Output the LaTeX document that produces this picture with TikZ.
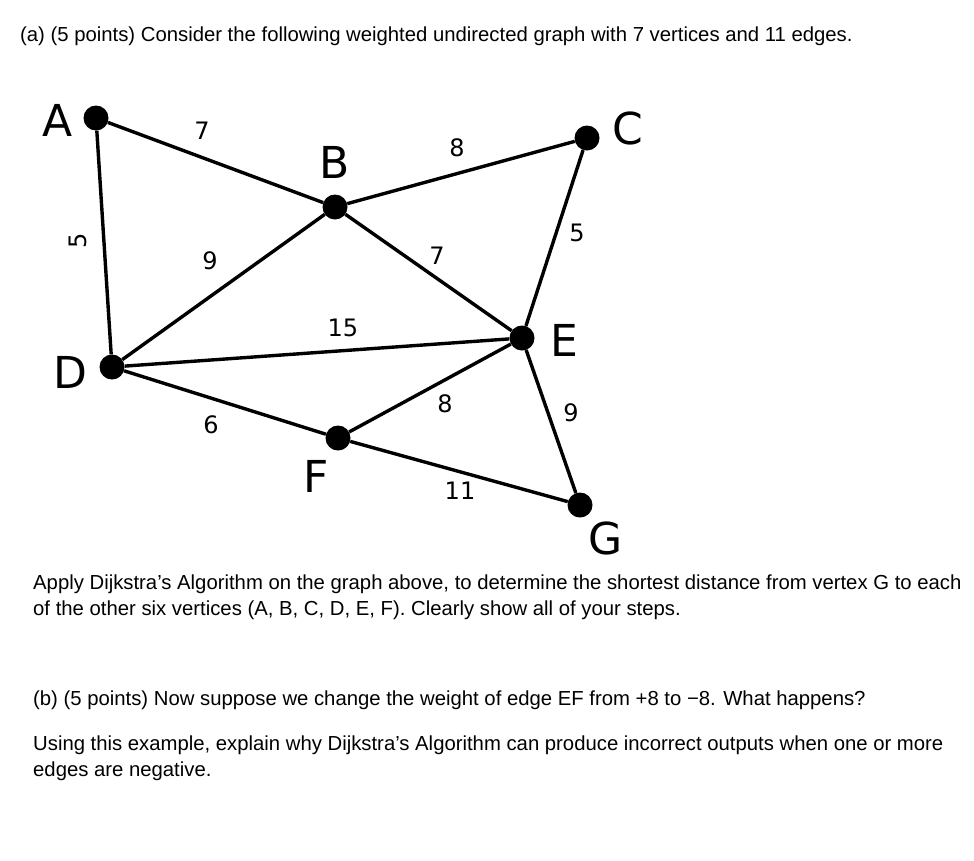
\documentclass[tikz,border=0pt]{standalone}
\usepackage{fontspec}
\setmainfont{Liberation Sans}
\newfontfamily\gf{DejaVu Sans}
\begin{document}
\begin{tikzpicture}[x=1pt,y=-1pt,
  vtx/.style={circle,fill=black,inner sep=0pt,minimum size=25pt},
  vl/.style={font=\gf\fontsize{44}{46}\selectfont},
  wl/.style={font=\gf\fontsize{24}{26}\selectfont},
  tx/.style={anchor=west,font=\fontsize{20.3}{24}\selectfont,inner sep=0pt},
  edge/.style={line width=3.4pt}]
\useasboundingbox (0,0) rectangle (974,860);
\node[tx] at (20,36) {(a) (5 points) Consider the following weighted undirected graph with 7 vertices and 11 edges.};
\node[vtx] (A) at (96,118) {};
\node[vtx] (B) at (335,207) {};
\node[vtx] (C) at (587,138) {};
\node[vtx] (D) at (112,367) {};
\node[vtx] (E) at (522,338) {};
\node[vtx] (F) at (338,438) {};
\node[vtx] (G) at (580,505) {};
\foreach \a/\b in {A/B,A/D,B/C,B/D,B/E,C/E,D/E,D/F,F/E,E/G,F/G} \draw[edge] (\a)--(\b);
\node[vl] (lA) at (58,120) {A};
\node[vl] (lB) at (335,162) {B};
\node[vl] (lC) at (628,128) {C};
\node[vl] (lD) at (70,372) {D};
\node[vl] (lE) at (564,340) {E};
\node[vl] (lF) at (316,476) {F};
\node[vl] (lG) at (606,538) {G};
\node[wl] (w1) at (202,131) {7};
\node[wl] (w2) at (457,148) {8};
\node[wl,rotate=90] (w3) at (78,241) {5};
\node[wl] (w4) at (210,261) {9};
\node[wl] (w5) at (437,256) {7};
\node[wl] (w6) at (577,233) {5};
\node[wl] (w7) at (343,328) {15};
\node[wl] (w8) at (445,404) {8};
\node[wl] (w9) at (571,413) {9};
\node[wl] (w10) at (211,425) {6};
\node[wl] (w11) at (460,491) {11};
\node[tx] at (33,584) {Apply Dijkstra’s Algorithm on the graph above, to determine the shortest distance from vertex G to each};
\node[tx] at (33,610) {of the other six vertices (A, B, C, D, E, F). Clearly show all of your steps.};
\node[tx] at (33,700) {(b) (5 points) Now suppose we change the weight of edge EF from +8 to −8. What happens?};
\node[tx] at (33,745) {Using this example, explain why Dijkstra’s Algorithm can produce incorrect outputs when one or more};
\node[tx] at (33,771) {edges are negative.};
\end{tikzpicture}
\end{document}
